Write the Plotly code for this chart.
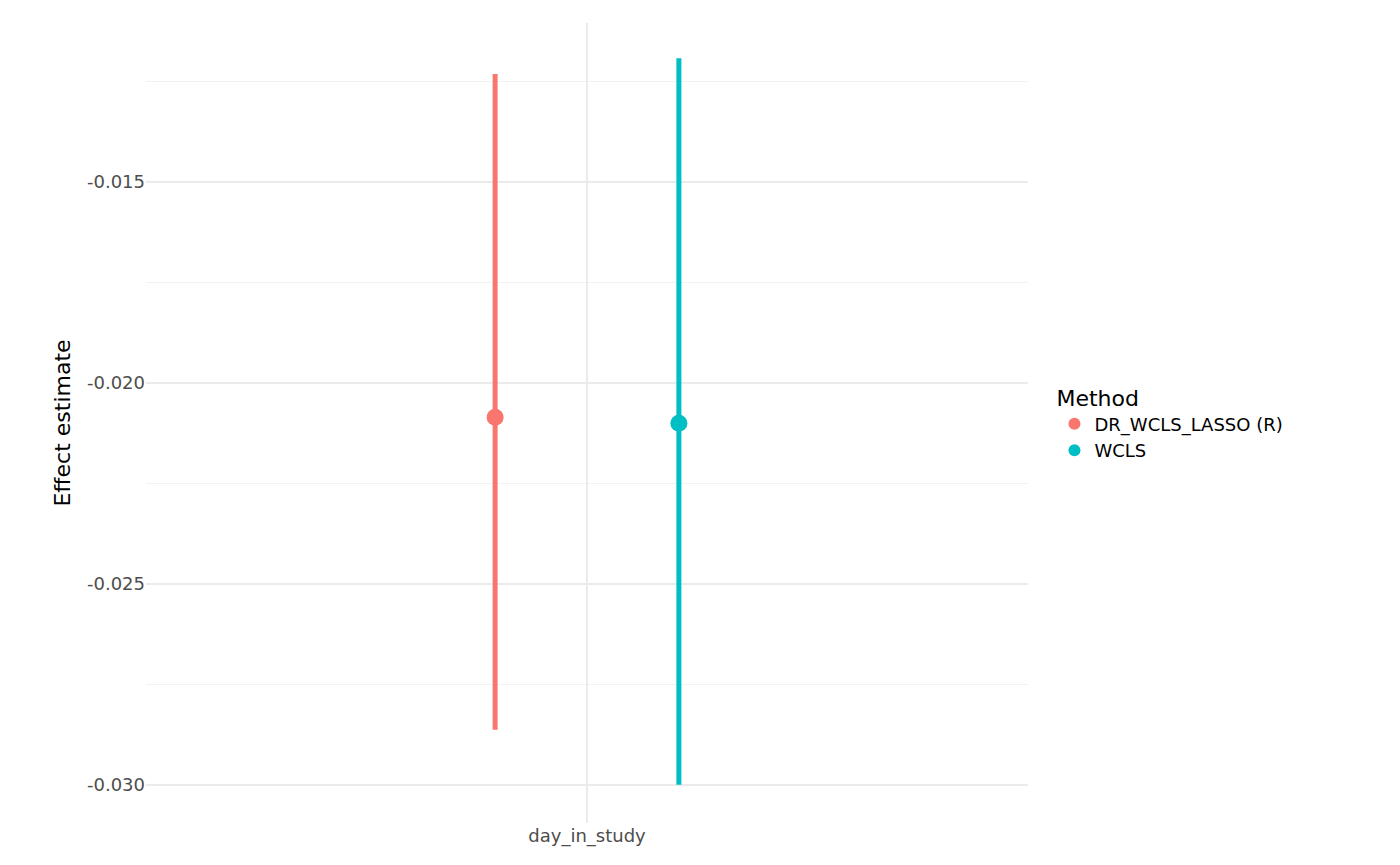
import plotly.graph_objects as go

methods = ["DR_WCLS_LASSO (R)", "WCLS"]
colors = ["#F8766D", "#00BFC4"]
estimates = [-0.02085, -0.02100]
lower = [-0.02863, -0.03000]
upper = [-0.01231, -0.01192]
offsets = [-0.125, 0.125]

fig = go.Figure()
for m, c, e, lo, hi, off in zip(methods, colors, estimates, lower, upper, offsets):
    fig.add_trace(go.Scatter(
        x=[1 + off], y=[e], mode="markers", name=m,
        marker=dict(color=c, size=17),
        error_y=dict(type="data", symmetric=False, array=[hi - e], arrayminus=[e - lo],
                     color=c, thickness=5, width=0),
    ))

fig.update_layout(
    width=1400, height=865, plot_bgcolor="white", paper_bgcolor="white",
    margin=dict(l=138, r=380, t=15, b=50),
    font=dict(family="DejaVu Sans", size=18, color="#4d4d4d"),
    legend=dict(title=dict(text="Method", font=dict(size=22, color="black")),
                x=1.03, y=0.5, yanchor="middle", font=dict(size=18, color="black"),
                tracegroupgap=10, itemsizing="constant"),
)
fig.update_xaxes(range=[0.4, 1.6], tickvals=[1], ticktext=["day_in_study"], automargin=False,
                 showgrid=True, gridcolor="#ebebeb", gridwidth=2, zeroline=False,
                 showline=False, ticks="")
fig.update_yaxes(range=[-0.03095, -0.01104], tickvals=[-0.030, -0.025, -0.020, -0.015],
                 ticktext=["-0.030", "-0.025", "-0.020", "-0.015"], automargin=False,
                 showgrid=True, gridcolor="#ebebeb", gridwidth=2, zeroline=False,
                 minor=dict(tickvals=[-0.0275, -0.0225, -0.0175, -0.0125], showgrid=True,
                            gridcolor="#f2f2f2", gridwidth=1),
                 title=dict(text="Effect estimate", font=dict(size=22, color="black"), standoff=10))
fig.write_html("out.html")
